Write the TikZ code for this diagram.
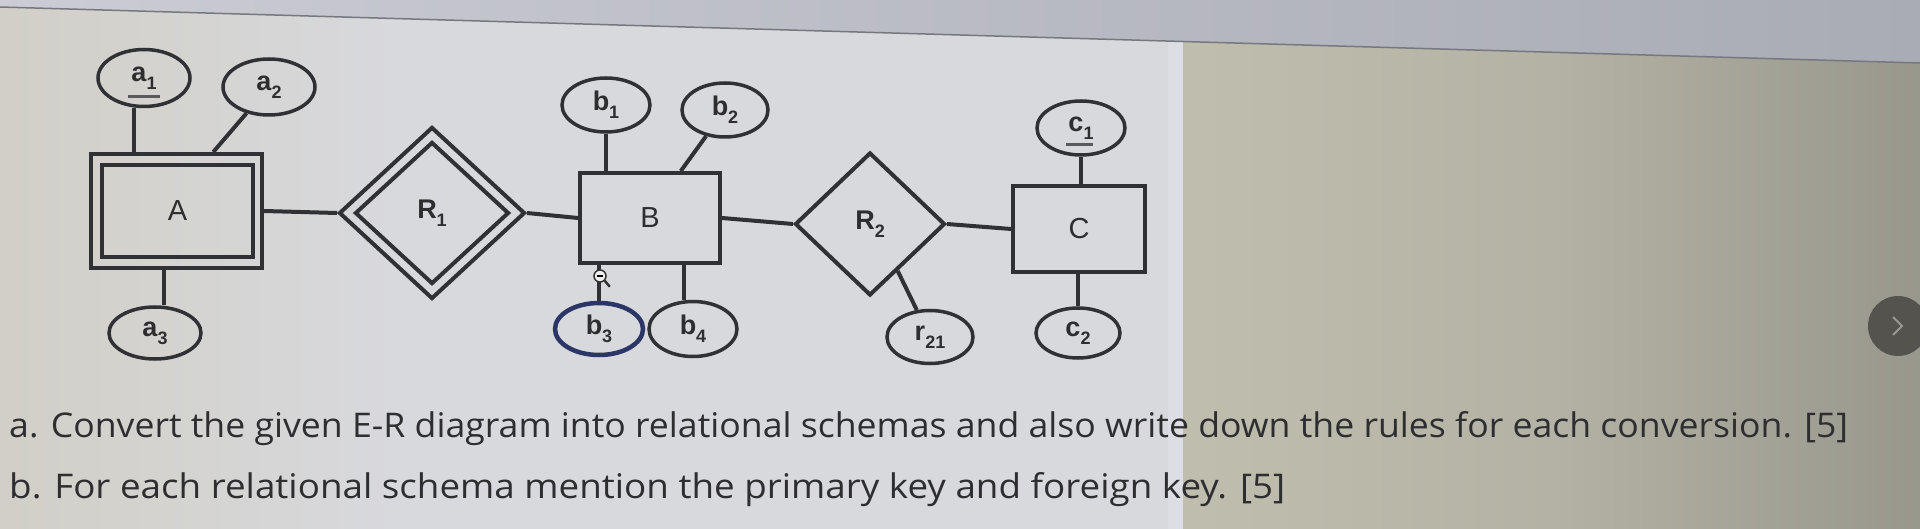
\documentclass[tikz,border=0pt]{standalone}
\usepackage{fontspec}
\usepackage{graphicx}
\setmainfont{Liberation Sans}
\newfontfamily\qfont{Open Sans}
\usetikzlibrary{shapes.geometric,calc}
\definecolor{lc}{HTML}{303135}
\definecolor{tc}{HTML}{2E2E31}
\definecolor{bgA}{HTML}{CBCAB9}
\definecolor{bgB}{HTML}{B3B2A4}
\definecolor{bgC}{HTML}{7F7D76}
\definecolor{bgL}{HTML}{D8D9DD}
\definecolor{bgLL}{HTML}{D1CFC7}
\definecolor{strip}{HTML}{DCDEE3}
\definecolor{topL}{HTML}{CBCCD4}
\definecolor{topR}{HTML}{A9ABB5}
\definecolor{btn}{HTML}{55534E}
\definecolor{bthree}{HTML}{2C3666}
\pgfdeclarehorizontalshading{rightbg}{100bp}{color(0bp)=(bgA); color(50bp)=(bgB); color(100bp)=(bgC)}
\newcommand\sbs[2]{#1\raisebox{-0.3em}{\fontsize{18}{18}\selectfont #2}}
\begin{document}
\begin{tikzpicture}[x=1pt,y=-1pt,
  ln/.style={line width=4pt, draw=lc},
  attr/.style={ellipse, draw=lc, line width=3.5pt, inner sep=0pt, text=tc,
     font=\fontsize{27}{27}\selectfont\bfseries},
  ent/.style={rectangle, draw=lc, line width=4pt, inner sep=0pt, text=tc,
     font=\fontsize{29}{29}\selectfont},
  rel/.style={diamond, draw=lc, line width=4pt, inner sep=0pt, text=tc,
     font=\fontsize{27}{27}\selectfont\bfseries},
  keyline/.style={line width=3pt, draw=lc!80},
  qtext/.style={anchor=base west, inner sep=0pt, text=tc}]
\useasboundingbox (0,0) rectangle (1920,529);
% background
\fill[bgL] (0,0) rectangle (1182,529);
\shade[left color=bgLL, right color=bgL] (0,0) rectangle (400,529);
\shade[shading=rightbg] (1182,0) rectangle (1920,529);
\fill[strip] (1168,0) rectangle (1183,529);
\shade[left color=topL, right color=topR] (0,0) -- (1920,0) -- (1920,63) -- (0,7) -- cycle;
\draw[line width=1.5pt, draw=topR!70!black] (0,7) -- (1920,63);
\node[circle, fill=btn, minimum size=60pt, inner sep=0pt] (btn) at (1898,326) {};
\draw[line width=2pt, draw=btn!60!white] ($(btn.center)+(-5,-9)$) -- ++(9,9) -- ++(-9,9);

% entities and relationships
\node[ent, minimum width=171pt, minimum height=114pt] (Aout) at (176.5,211) {};
\node[ent, minimum width=151pt, minimum height=92pt] (Ain) at (177.5,211) {A};
\node[rel, minimum width=186pt, minimum height=172pt] (R1) at (432,213) {};
\node[rel, minimum width=154pt, minimum height=142pt] (R1in) at (432,213) {\sbs{R}{1}};
\node[ent, minimum width=140pt, minimum height=90pt] (B) at (650,218) {B};
\node[rel, minimum width=150pt, minimum height=143pt] (R2) at (870,224) {\sbs{R}{2}};
\node[ent, minimum width=132pt, minimum height=86pt] (C) at (1079,229) {C};

% attributes
\node[attr, minimum width=92pt, minimum height=57pt] (a1) at (144,78) {\sbs{a}{1}};
\node[attr, minimum width=92pt, minimum height=56pt] (a2) at (269,87) {\sbs{a}{2}};
\node[attr, minimum width=92pt, minimum height=52pt] (a3) at (155,333) {\sbs{a}{3}};
\node[attr, minimum width=88pt, minimum height=54pt] (b1) at (606,105) {\sbs{b}{1}};
\node[attr, minimum width=86pt, minimum height=54pt] (b2) at (725,110) {\sbs{b}{2}};
\node[attr, draw=bthree, line width=4.5pt, minimum width=88pt, minimum height=52pt] (b3) at (599,329) {\sbs{b}{3}};
\node[attr, minimum width=88pt, minimum height=55pt] (b4) at (693,329) {\sbs{b}{4}};
\node[attr, minimum width=88pt, minimum height=54pt] (c1) at (1081,128) {\sbs{c}{1}};
\node[attr, minimum width=84pt, minimum height=50pt] (c2) at (1078,333) {\sbs{c}{2}};
\node[attr, minimum width=86pt, minimum height=53pt] (r21) at (930,337) {\sbs{r}{21}};

% key underlines
\draw[keyline] ($(a1.center)+(-16,19)$) -- ($(a1.center)+(16,19)$);
\draw[keyline] ($(c1.center)+(-15,17)$) -- ($(c1.center)+(12,17)$);

% connector anchor points
\coordinate (pa1) at ($(Aout.north west)!0.257!(Aout.north east)$);
\coordinate (pa2) at ($(Aout.north west)!0.71!(Aout.north east)$);
\coordinate (pa3) at ($(Aout.south west)!0.43!(Aout.south east)$);
\coordinate (pb2) at ($(B.north west)!0.714!(B.north east)$);
\coordinate (pb4) at ($(B.south west)!0.737!(B.south east)$);
\coordinate (pr21) at ($(R2.south)!0.36!(R2.east)$);

% connectors
\draw[ln] (pa1) -- (pa1 |- a1.south);
\draw[ln] (a2) -- (pa2);
\draw[ln] (pa3) -- (pa3 |- a3.north);
\draw[ln] (Aout.east) -- (R1.west);
\draw[ln] (R1.east) -- (B.west);
\draw[ln] (b1.south) -- (b1.south |- B.north);
\draw[ln] (b2) -- (pb2);
\draw[ln] (b3.north) -- (b3.north |- B.south);
\draw[ln] (pb4) -- (pb4 |- b4.north);
\draw[ln] (B.east) -- (R2.west);
\draw[ln] (R2.east) -- (C.west);
\draw[ln] (pr21) -- (r21);
\draw[ln] (c1.south) -- (c1.south |- C.north);
\draw[ln] (c2.north) -- (c2.north |- C.south);

% zoom cursor icon
\node[circle, draw=black!80, fill=white!90!gray, line width=1.5pt, minimum size=12pt, inner sep=0pt] (cur) at (600,276) {};
\draw[line width=1.3pt] ($(cur.center)+(-3,0)$) -- ($(cur.center)+(3,0)$);
\draw[line width=2.5pt, draw=black!80] (cur.south east) -- ++(5,6);

% question text
\node[qtext] (qa) at (9,437) {\resizebox{1839pt}{26pt}{\qfont\fontsize{35}{40}\selectfont a. Convert the given E-R diagram into relational schemas and also write down the rules for each conversion. [5]}};
\node[qtext] (qb) at (9,498) {\resizebox{1276pt}{26pt}{\qfont\fontsize{35}{40}\selectfont b. For each relational schema mention the primary key and foreign key. [5]}};
\end{tikzpicture}
\end{document}
